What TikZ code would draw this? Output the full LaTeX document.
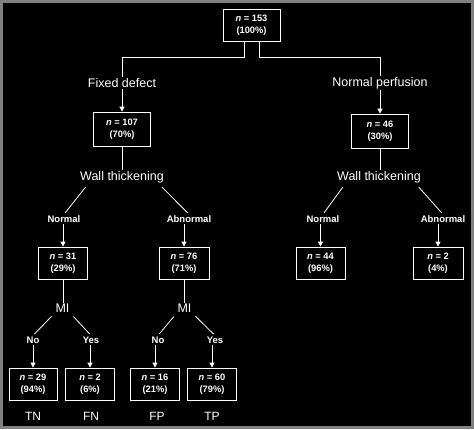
\documentclass[tikz,border=0pt]{standalone}
\usepackage{fontspec}
\setmainfont{Liberation Sans}
\usetikzlibrary{arrows.meta}
\begin{document}
\begin{tikzpicture}[x=1pt,y=-1pt,
  box/.style={draw=white, line width=0.8pt, text=white, font=\fontsize{9.3}{12}\selectfont\bfseries, align=center, inner sep=0pt, minimum width=49pt, minimum height=32pt},
  big/.style={text=white, font=\fontsize{12.5}{14}\selectfont, inner sep=1pt},
  small/.style={text=white, font=\fontsize{9.5}{11}\selectfont\bfseries, inner sep=1pt},
  conn/.style={draw=white, line width=0.8pt},
  arr/.style={conn, -{Triangle[width=5pt,length=5pt]}},
  diag/.style={conn, shorten <=4pt, shorten >=2pt}]
\useasboundingbox (0,0) rectangle (474,429);
\fill[black!50] (0,0) rectangle (474,429);
\fill[black] (3,3) rectangle (471,426);

% boxes
\node[box, minimum width=57pt] (root) at (251.5,25) {\textit{n} = 153\\(100\%)};
\node[box, minimum width=57pt, minimum height=34pt] (b107) at (122,129) {\textit{n} = 107\\(70\%)};
\node[box, minimum width=57pt, minimum height=34pt] (b46) at (380,131) {\textit{n} = 46\\(30\%)};
\node[box] (b31) at (63,263) {\textit{n} = 31\\(29\%)};
\node[box, minimum width=50pt] (b76) at (184,263) {\textit{n} = 76\\(71\%)};
\node[box] (b44) at (320.5,263) {\textit{n} = 44\\(96\%)};
\node[box, minimum width=50pt] (b2a) at (438,263) {\textit{n} = 2\\(4\%)};
\node[box, minimum width=48pt] (b29) at (33,384) {\textit{n} = 29\\(94\%)};
\node[box] (b2) at (90,384) {\textit{n} = 2\\(6\%)};
\node[box] (b16) at (155,384) {\textit{n} = 16\\(21\%)};
\node[box] (b60) at (212,384) {\textit{n} = 60\\(79\%)};

% labels
\node[big] (fd) at (122,83) {Fixed defect};
\node[big] (np) at (380,83) {Normal perfusion};
\node[big] (wt1) at (122,177) {Wall thickening};
\node[big] (wt2) at (379,177) {Wall thickening};
\node[small] (n1) at (64,219) {Normal};
\node[small] (a1) at (189,219) {Abnormal};
\node[small] (n2) at (323,219) {Normal};
\node[small] (a2) at (443,219) {Abnormal};
\node[big] (mi1) at (62.5,308) {MI};
\node[big] (mi2) at (184.5,308) {MI};
\node[small] (no1) at (33,340) {No};
\node[small] (yes1) at (91,340) {Yes};
\node[small] (no2) at (158,340) {No};
\node[small] (yes2) at (215,340) {Yes};
\node[big, font=\fontsize{12}{14}\selectfont] (tn) at (33,416) {TN};
\node[big, font=\fontsize{12}{14}\selectfont] (fn) at (91,416) {FN};
\node[big, font=\fontsize{12}{14}\selectfont] (fp) at (157,416) {FP};
\node[big, font=\fontsize{12}{14}\selectfont] (tp) at (212,416) {TP};

% connectors
\draw[conn] ([xshift=-7.5pt]root.south) -- ++(0,16) -| (fd.north);
\draw[conn] ([xshift=7.5pt]root.south) -- ++(0,16) -| (np.north);
\draw[arr] (fd.south) -- (b107.north);
\draw[arr] (np.south) -- (b46.north);
\draw[conn] (b107.south) -- (b107.south |- wt1.north);
\draw[conn] (b46.south) -- (b46.south |- wt2.north);
\draw[diag] ([xshift=9pt]wt1.south west) -- (n1.north);
\draw[diag] ([xshift=-6pt]wt1.south east) -- (a1.north);
\draw[diag] ([xshift=9pt]wt2.south west) -- (n2.north);
\draw[diag] ([xshift=-6pt]wt2.south east) -- (a2.north);
\draw[arr] (b31.north |- n1.south) -- (b31.north);
\draw[arr] (b76.north |- a1.south) -- (b76.north);
\draw[arr] (b44.north |- n2.south) -- (b44.north);
\draw[arr] (b2a.north |- a2.south) -- (b2a.north);
\draw[conn] (b31.south) -- (b31.south |- mi1.north);
\draw[conn] (b76.south) -- (b76.south |- mi2.north);
\draw[diag] (mi1.south west) -- (no1.north);
\draw[diag] (mi1.south east) -- (yes1.north);
\draw[diag] (mi2.south west) -- (no2.north);
\draw[diag] (mi2.south east) -- (yes2.north);
\draw[arr] (b29.north |- no1.south) -- (b29.north);
\draw[arr] (b2.north |- yes1.south) -- (b2.north);
\draw[arr] (b16.north |- no2.south) -- (b16.north);
\draw[arr] (b60.north |- yes2.south) -- (b60.north);
\end{tikzpicture}
\end{document}
